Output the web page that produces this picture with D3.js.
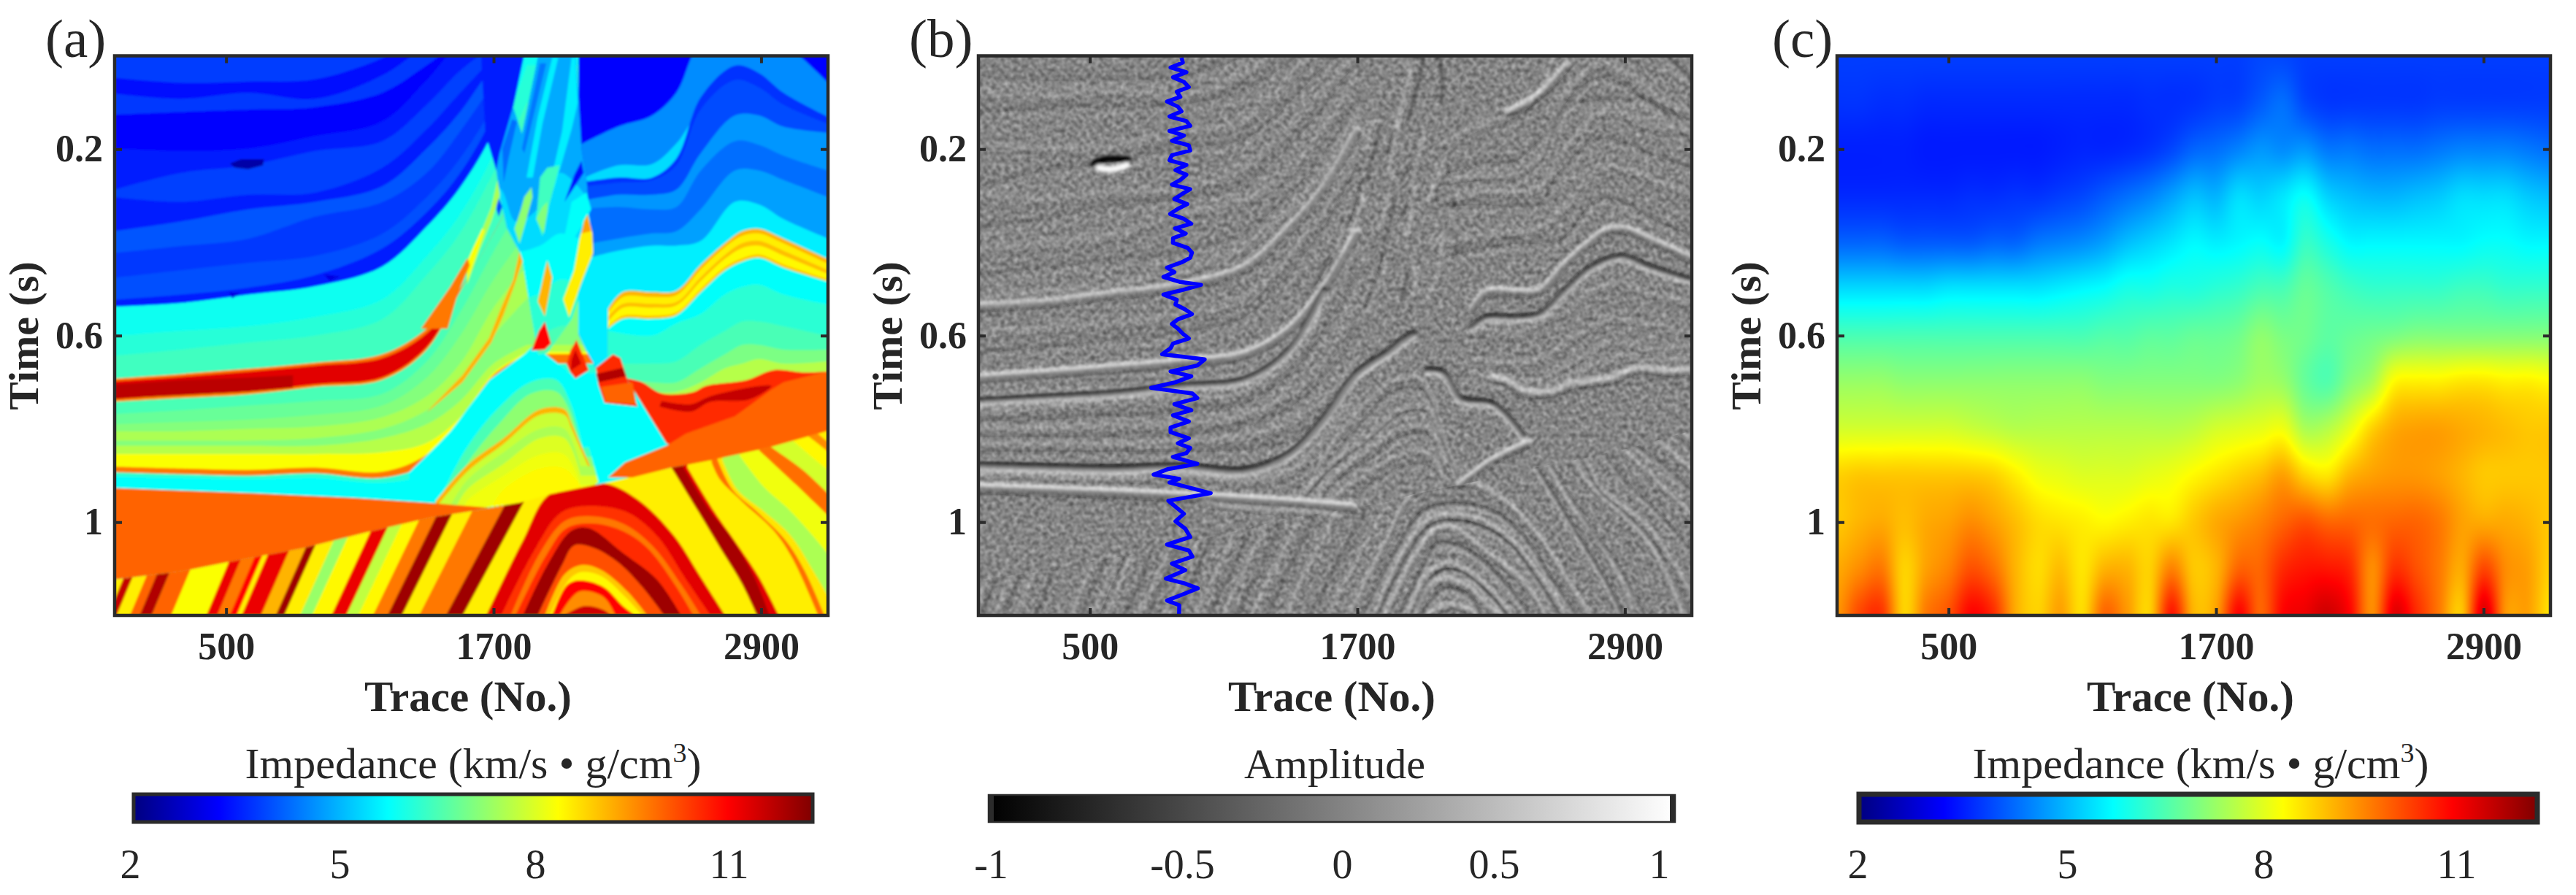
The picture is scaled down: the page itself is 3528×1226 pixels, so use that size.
<!DOCTYPE html>
<html>
<head>
<meta charset="utf-8">
<script src="https://cdn.jsdelivr.net/npm/d3@7"></script>
<style>
body { margin: 0; background: #fff; }
text { font-family: "Liberation Serif", serif; fill: #262626; }
</style>
</head>
<body>
<svg id="chart" width="3528" height="1226"></svg>
<script>
// ---- axes
var traceTicks = [500, 1700, 2900];
var timeTicks = [0.2, 0.6, 1];
var impedanceTicks = [2, 5, 8, 11];
var amplitudeTicks = [-1, -0.5, 0, 0.5, 1];

// ---- panel (a), horizons that are filled downwards, top layer first
var zoneATraces = [0, 300, 600, 900, 1200, 1400, 1550, 1700, 1850];
var zoneAValues = [3.9, 3.4, 3.85, 3.35, 3.55, 3.95, 3.6, 4.15, 3.85, 4.1, 3.6, 6.0, 6.25, 6.5, 9.8, 11.3, 9.6, 6.6, 6.9, 7.2, 7.6, 7.2, 7.7, 8.4, 9.8, 6.3, 5.9];
var zoneATimes = [
  [-.05, -.05, -.05, -.05, -.05, -.05, -.05, -.05, -.05],
  [.047, .058, .055, .050, .005, -.05, -.05, -.05, -.05],
  [.081, .092, .079, .092, .042, -.021, -.05, -.05, -.05],
  [.126, .120, .115, .110, .079, .02, -.03, -.05, -.05],
  [.199, .204, .199, .172, .141, .052, -.026, -.05, -.05],
  [.287, .251, .235, .204, .183, .105, .032, -.02, -.05],
  [.303, .313, .298, .293, .240, .157, .079, .005, -.05],
  [.376, .355, .329, .313, .28, .199, .12, .021, -.05],
  [.423, .408, .392, .345, .314, .251, .162, .058, -.05],
  [.476, .460, .444, .429, .382, .303, .220, .105, -.05],
  [.523, .512, .497, .470, .413, .335, .251, .126, -.05],
  [.538, .530, .512, .494, .452, .366, .282, .16, -.05],
  [.601, .59, .58, .56, .523, .43, .34, .21, .02],
  [.643, .63, .615, .6, .565, .47, .38, .25, .10],
  [.692, .682, .671, .658, .64, .585, .50, .38, .25],
  [.698, .688, .677, .664, .648, .595, .505, .38, .25],
  [.737, .727, .72, .705, .69, .625, .505, .38, .25],
  [.742, .734, .726, .71, .695, .63, .505, .38, .25],
  [.768, .76, .75, .74, .725, .655, .55, .42, .30],
  [.79, .785, .78, .77, .75, .69, .60, .48, .38],
  [.805, .805, .80, .795, .775, .73, .66, .54, .45],
  [.825, .825, .825, .82, .80, .76, .70, .60, .52],
  [.836, .836, .836, .836, .82, .79, .74, .66, .62],
  [.854, .854, .854, .854, .85, .83, .775, .68, .635],
  [.881, .885, .888, .883, .892, .855, .782, .684, .64],
  [.893, .897, .9, .895, .905, .875, .80, .71, .66],
  [.902, .905, .908, .905, .915, .895, .83, .74, .68]
];
var apexBlue = [[1663,.167],[1712,.246],[1728,.209],[1788,.11],[1850,-.03],[1640,-.03]];
var apexBlueValue = 3.6;

var fanEdge = [[1712,.246],[1728,.209],[1788,.11],[1827,.167],[1908,-.02],[2067,-.02],[2094,.199],[2116,.251],[2143,.355],[2149,.423],[2050,.564],[1941,.637],[1900,.64],[1850,.50],[1830,.44],[1816,.42],[1760,.37],[1728,.30]];
var fanTraces = [1581, 1723, 1800, 1908, 2000, 2150];
var fanValues = [5, 5.5, 5.9, 6.3, 6.6];
var fanTimes = [
  [-.05, -.05, -.05, -.05, -.05, -.05],
  [.303, .282, .355, .324, .251, .324],
  [.407, .387, .418, .407, .381, .407],
  [.51, .49, .52, .51, .48, .50],
  [.64, .60, .62, .60, .58, .58]
];
var fanStripeValues = [4.4, 5.7, 4.5, 5.7, 3.4, 6.5, 4.0, 5.9, 7.6, 8.4, 9.8, 9.2, 7.3, 7.2, 9.2, 8.6, 9.4];
var fanStripes = [
  [[1739,.199],[1783,.136],[1805,.141],[1767,.22],[1745,.272]],
  [[1963,.004],[1990,.004],[1919,.146],[1876,.261],[1848,.261],[1898,.131]],
  [[1908,.016],[1936,.016],[1865,.157],[1838,.209],[1827,.199]],
  [[2050,.004],[2067,.004],[2078,.1],[2050,.157],[1974,.282],[1947,.287],[2007,.162]],
  [[2018,.313],[2061,.256],[2094,.225],[2105,.251],[2061,.282]],
  [[1908,.261],[1941,.24],[1996,.235],[1947,.324],[1919,.387],[1892,.35]],
  [[1717,.298],[1739,.324],[1723,.345],[1712,.329]],
  [[2050,.313],[2116,.293],[2138,.329],[2094,.366],[2039,.407],[2018,.387]],
  [[1728,.298],[1690,.355],[1636,.418],[1581,.491],[1581,.439],[1636,.387],[1690,.324],[1717,.266]],
  [[1581,.444],[1581,.485],[1620,.43],[1660,.375],[1650,.37],[1610,.41]],
  [[1374,.585],[1494,.585],[1538,.512],[1593,.449],[1582,.434],[1505,.496]],
  [[1816,.42],[1788,.48],[1734,.54],[1680,.605],[1560,.685],[1418,.755],[1400,.765],[1560,.70],[1690,.615],[1745,.555],[1795,.49],[1830,.44]],
  [[1794,.371],[1823,.329],[1838,.303],[1870,.282],[1874,.303],[1838,.366],[1816,.402]],
  [[1892,.35],[1919,.324],[1941,.313],[1941,.334],[1925,.381]],
  [[1941,.439],[1963,.475],[1947,.517],[1930,.559],[1898,.527],[1908,.507],[1930,.46]],
  [[2121,.34],[2143,.381],[2146,.423],[2094,.486],[2039,.561],[2012,.522],[2061,.46],[2088,.387]],
  [[2121,.34],[2138,.376],[2094,.381],[2105,.355]]
];

var zoneBEdge = [[2067,-.02],[2094,.199],[2116,.261],[2146,.423],[2094,.486],[2050,.564],[2116,.632],[2159,.669],[2301,.695],[2476,.831],[2673,.867],[3192,.805],[3300,.795],[3300,-.02]];
var zoneBTraces = [2080, 2258, 2411, 2520, 2629, 2782, 2891, 3000, 3200];
var zoneBValues = [3.3, 4.7, 5.5, 3.8, 4.05, 4.8, 4.4, 4.9, 5.7];
var zoneBTimes = [
  [-.05, -.05, -.05, -.05, -.05, -.05, -.05, -.05, -.05],
  [.193, .152, .128, .079, -.026, -.04, -.04, -.026, .058],
  [.267, .235, .232, .188, .12, .1, .1, .1, .2],
  [.272, .261, .261, .22, .089, .021, .037, .079, .131],
  [.282, .272, .267, .235, .115, .052, .068, .105, .146],
  [.313, .298, .298, .287, .209, .128, .128, .152, .165],
  [.329, .324, .329, .324, .246, .183, .191, .214, .246],
  [.407, .392, .381, .376, .329, .246, .246, .266, .303],
  [.439, .418, .407, .407, .397, .313, .319, .350, .392]
];
var bandTraces = [2214, 2280, 2411, 2520, 2629, 2738, 2815, 2891, 3000, 3192];
var bandValues = [9.2, 8.6, 9.1, 8.5, 9, 5.9];
var bandTimes = [
  [.543, .507, .507, .504, .449, .402, .376, .371, .392, .434],
  [.551, .517, .517, .513, .458, .41, .386, .381, .402, .444],
  [.56, .532, .532, .528, .475, .427, .402, .397, .418, .458],
  [.57, .54, .54, .535, .483, .435, .412, .407, .428, .466],
  [.58, .557, .557, .55, .5, .453, .434, .426, .447, .478],
  [.585, .564, .564, .556, .507, .46, .441, .433, .454, .483]
];
var deepTraces = [2214, 2411, 2520, 2629, 2738, 2815, 2891, 3000, 3192];
var deepValues = [6.3, 6.6, 7.1, 7.7];
var deepTimes = [
  [.59, .60, .574, .554, .512, .496, .491, .512, .533],
  [.66, .66, .655, .62, .59, .57, .57, .58, .60],
  [.69, .70, .70, .67, .64, .62, .62, .63, .63],
  [.71, .72, .72, .70, .67, .66, .65, .66, .655]
];
var redTop = [[2301,.692],[2367,.70],[2454,.724],[2596,.721],[2651,.708],[2837,.695],[2956,.674],[3087,.679],[3192,.677]];
var redLens = [[2443,.752],[2585,.763],[2672,.742],[2847,.737],[2946,.708],[2891,.708],[2672,.73],[2585,.747],[2454,.74]];

// upper part of the buried fold, cut by the steep fault
var foldEdge = [[1320,.893],[1505,.805],[1680,.695],[1843,.637],[1880,.62],[2028,.674],[2170,.914],[2127,.93],[1952,.94],[1821,.958],[1614,.972],[1320,.972]];
var foldValues = [5.9, 6.6, 7.3, 9.2, 7.9, 7.6, 8.1, 8.3, 8.5];
var foldLayers = [
  [[1320,.893],[1505,.805],[1680,.695],[1843,.637],[1880,.62]],
  [[1480,.93],[1581,.84],[1723,.755],[1865,.70],[1980,.695],[2040,.74],[2100,.84]],
  [[1520,.93],[1581,.875],[1723,.79],[1865,.725],[1980,.72],[2040,.76],[2100,.86]],
  [[1440,.955],[1581,.878],[1745,.82],[1908,.758],[2018,.758],[2050,.789],[2160,.909]],
  [[1440,.97],[1581,.892],[1745,.832],[1908,.77],[2018,.77],[2050,.80],[2160,.92]],
  [[1500,.97],[1581,.91],[1745,.85],[1908,.80],[2018,.80],[2090,.88]],
  [[1520,.98],[1581,.93],[1745,.875],[1908,.82],[2018,.82],[2090,.9]],
  [[1560,.98],[1581,.955],[1745,.90],[1908,.855],[2018,.855],[2090,.92]],
  [[1700,.96],[1745,.93],[1908,.885],[2018,.885],[2100,.93]]
];

var patchValues = [5.9, 11, 10.6, 11.5, 10.6, 11.8, 10, 2.4, 3, 3, 11.7];
var patches = [
  [[2050,.695],[2116,.684],[2148,.69],[2198,.745],[2345,.763],[2400,.784],[2476,.833],[2410,.846],[2280,.878],[2203,.901],[2170,.914]],
  [[1930,.57],[1958,.617],[1930,.63],[1870,.632],[1903,.59]],
  [[2072,.609],[2127,.674],[2067,.692],[2045,.679],[2028,.661],[2045,.632]],
  [[2067,.63],[2094,.66],[2045,.675],[2050,.65]],
  [[2159,.669],[2236,.64],[2269,.648],[2301,.695],[2345,.752],[2198,.744],[2170,.705]],
  [[2159,.682],[2280,.669],[2296,.687],[2170,.70]],
  [[2181,.71],[2323,.70],[2340,.747],[2203,.742]],
  [[517,.231],[566,.222],[670,.222],[665,.235],[599,.243],[540,.24]],
  [[512,.507],[566,.509],[528,.52]],
  [[937,.468],[1014,.473],[965,.483]],
  [[0,.705],[300,.695],[600,.69],[800,.685],[800,.712],[600,.72],[300,.728],[0,.735]]
];

// dipping beds below the thrust
var lowerEdge = [[-30,1.125],[305,1.105],[501,1.086],[850,1.055],[1134,1.021],[1418,.99],[1592,.977],[1821,.958],[1952,.94],[2192,.917],[2498,.883],[2673,.867],[2924,.841],[3192,.805],[3300,.795],[3300,1.25],[-30,1.25]];
var bedValues = [11.6, 8.6, 10, 11.8, 10, 8.4, 11.2, 9.8, 11, 8.6, 11.2, 9.2, 12, 8.6, 7.4, 8.5, 11.2, 7.8, 8.5, 9.8, 12, 8.6, 9.8, 12, 8.6];
var bedBase = [-30, 9, 69, 112, 167, 254, 412, 461, 516, 548, 570, 657, 723, 761, 832, 886, 973, 1039, 1093, 1159, 1224, 1289, 1366, 1486, 1562];
var bedTop = [233, 272, 332, 375, 430, 517, 675, 726, 783, 816, 840, 930, 1000, 1040, 1115, 1172, 1265, 1335, 1392, 1462, 1532, 1600, 1685, 1820, 1900];

var limbValues = [11.9, 11.3, 8.6, 9.9, 8.7, 7.6, 8.3, 9.9, 8, 8.5, 9.6, 8.6];
var limbs = [
  [[2498,.883],[2618,.977],[2716,1.055],[2815,1.133],[2891,1.21]],
  [[2552,.883],[2672,.977],[2760,1.029],[2869,1.118],[2945,1.21]],
  [[2569,.883],[2689,.977],[2781,1.04],[2890,1.118],[2989,1.21]],
  [[2678,.872],[2716,.909],[2815,.956],[2956,1.018],[3044,1.081],[3164,1.21]],
  [[2705,.867],[2771,.93],[2891,.982],[3011,1.04],[3098,1.107],[3192,1.21]],
  [[2727,.867],[2793,.93],[2913,.977],[3033,1.029],[3131,1.102],[3220,1.175]],
  [[2803,.857],[2913,.925],[3022,.972],[3131,1.029],[3220,1.081]],
  [[2891,.846],[3055,.919],[3192,.982],[3240,1.003]],
  [[2935,.836],[3087,.888],[3192,.935],[3240,.956]],
  [[3044,.826],[3131,.862],[3240,.904]],
  [[3109,.815],[3192,.846],[3240,.867]],
  [[3142,.805],[3192,.825],[3240,.841]]
];
var archValues = [11.3, 10.5, 9.8, 10.6, 12, 10.2, 9, 8.5, 11, 9.6, 11.5];
var arches = [
  [[1668,1.2],[1832,1.039],[1952,.94],[2192,.917],[2345,.951],[2509,1.029],[2629,1.118],[2738,1.2]],
  [[1734,1.2],[1876,1.066],[1996,.982],[2094,.966],[2290,.977],[2432,1.029],[2563,1.123],[2673,1.2]],
  [[1777,1.2],[1908,1.066],[2018,.998],[2127,.987],[2280,1.003],[2411,1.05],[2541,1.134],[2629,1.2]],
  [[1799,1.2],[1930,1.076],[2028,1.013],[2149,1.003],[2280,1.019],[2389,1.055],[2520,1.139],[2596,1.2]],
  [[1832,1.2],[1941,1.092],[2050,1.018],[2127,1.013],[2280,1.066],[2432,1.123],[2541,1.2]],
  [[1898,1.2],[2007,1.092],[2061,1.05],[2149,1.055],[2258,1.086],[2367,1.139],[2465,1.2]],
  [[1930,1.2],[2018,1.112],[2094,1.092],[2181,1.102],[2301,1.149],[2389,1.2]],
  [[1952,1.2],[2039,1.123],[2094,1.107],[2181,1.115],[2290,1.16],[2367,1.2]],
  [[1963,1.2],[2028,1.136],[2083,1.125],[2192,1.139],[2280,1.18],[2334,1.2]],
  [[1996,1.2],[2083,1.149],[2192,1.16],[2247,1.2]],
  [[2018,1.2],[2105,1.18],[2192,1.188],[2225,1.2]]
];
var thrustLeft = [[0,.927],[632,.938],[1069,.948],[1396,.958],[1680,.969],[1800,.958],[1592,.977],[1418,.99],[1134,1.021],[850,1.055],[501,1.086],[305,1.105],[0,1.123]];
var thrustRight = [[2214,.904],[2290,.872],[2476,.836],[2563,.81],[2782,.773],[2946,.716],[3000,.70],[3192,.677],[3300,.67],[3300,.795],[3192,.805],[2924,.841],[2673,.867],[2498,.883],[2323,.904]];
var thrustValue = 10;

// ---- panel (b), picks that have no impedance layer of their own
var faultDark = [[2012,.677],[2086,.683],[2160,.738],[2308,.75],[2443,.818]];
var crestLight = [[2160,.92],[2300,.87],[2470,.83]];
var sagLight = [[1000,.96],[1200,.972],[1500,.98],[1630,.99]];
var archLight = [[2370,.122],[2500,.09],[2640,.02]];

// the well trace drawn over the section
var wellTimes = [.004,.0145,.025,.035,.046,.056,.067,.077,.088,.098,.109,.119,.13,.14,.15,.161,.171,.182,.192,.203,.213,.224,.234,.245,.255,.266,.276,.286,.297,.307,.318,.328,.339,.349,.36,.37,.381,.391,.401,.412,.422,.433,.443,.454,.464,.474,.485,.491,.502,.512,.523,.533,.544,.554,.565,.575,.585,.596,.606,.617,.627,.64,.651,.664,.677,.687,.70,.712,.724,.734,.747,.76,.771,.784,.797,.807,.82,.831,.841,.852,.86,.875,.886,.898,.907,.915,.925,.938,.954,.967,.982,.998,1.014,1.032,1.048,1.061,1.074,1.089,1.103,1.121,1.131,1.142,1.157,1.168,1.178,1.2];
var wellTraces = [911,917,862,933,873,922,944,890,906,846,895,911,857,933,950,857,922,868,944,950,868,857,933,884,933,906,868,950,911,879,937,895,860,919,955,882,930,873,873,939,958,950,911,846,879,830,906,999,917,830,890,884,928,958,895,868,895,917,944,873,862,824,1015,982,862,955,884,775,960,982,879,955,873,944,862,862,944,895,950,933,873,982,852,786,901,857,939,1042,852,884,922,884,928,950,846,944,960,868,928,841,922,984,906,846,901,900];

// ---- panel (c), low frequency model sampled every 100 traces
var modelTraces = [0,100,200,300,400,500,600,700,800,900,1000,1100,1200,1300,1400,1500,1600,1700,1800,1900,2000,2100,2200,2300,2400,2500,2600,2700,2800,2900,3000,3100,3200];
var modelTimes = [0,.1,.2,.3,.4,.5,.6,.7,.8,.9,1,1.1,1.2];
var modelGrid = [
  [3.9,3.9,3.9,3.9,3.9,3.9,3.9,3.9,3.9,3.9,3.9,3.9,3.9,3.9,3.9,3.9,3.9,3.9,3.9,4,4,3.9,3.9,3.9,3.9,3.9,3.9,3.9,3.9,3.9,3.9,3.9,3.9],
  [3.8,3.8,3.75,3.75,3.7,3.7,3.7,3.7,3.7,3.7,3.7,3.7,3.7,3.7,3.75,3.75,3.8,3.9,3.95,4.2,4.4,4,3.85,3.85,3.85,3.85,3.85,3.9,3.9,3.9,3.9,3.9,3.9],
  [3.6,3.6,3.6,3.6,3.55,3.55,3.55,3.55,3.55,3.55,3.6,3.65,3.65,3.7,3.8,4,4.3,4.4,4.6,4.8,4.7,4.8,4.5,4.5,4.4,4.4,4.4,4.5,4.6,4.6,4.6,4.5,4.4],
  [3.7,3.7,3.7,3.7,3.7,3.7,3.75,3.75,3.8,3.8,3.9,4,4.2,4.4,4.6,4.9,5.2,5.1,5.5,5.4,5.6,5.9,5.4,5.2,5.1,5.1,5.2,5.3,5.5,5.5,5.5,5.3,5.2],
  [4.3,4.3,4.3,4.2,4.2,4.2,4.2,4.3,4.3,4.5,4.6,4.7,4.9,5.2,5.4,5.6,5.8,5.7,5.8,5.9,5.8,6.4,6.1,5.8,5.8,5.8,5.8,5.8,5.8,5.9,5.9,5.8,5.8],
  [5.5,5.5,5.5,5.5,5.5,5.6,5.6,5.6,5.6,5.6,5.7,5.8,5.9,6.1,6.1,6.2,6.2,6.3,6.4,6.6,6.6,6.9,6.7,6.5,6.4,6.4,6.4,6.4,6.5,6.5,6.4,6.4,6.4],
  [6.6,6.6,6.6,6.6,6.6,6.6,6.6,6.6,6.6,6.6,6.6,6.6,6.7,6.7,6.8,6.8,6.9,6.9,7,7.3,7.1,7,6.8,6.9,7,7.1,7.2,7.2,7.2,7.2,7.2,7.2,7.2],
  [7.4,7.4,7.4,7.3,7.3,7.3,7.3,7.3,7.3,7.3,7.3,7.3,7.2,7.2,7.2,7.2,7.2,7.2,7.3,7.5,7.4,6.9,6.7,7.2,7.6,8.5,8.6,8.6,8.7,8.7,8.6,8.6,8.5],
  [8,8,8,8,8,8,7.9,7.8,7.7,7.7,7.7,7.7,7.7,7.7,7.7,7.7,7.8,8,8.1,8.2,8.3,7.6,7.7,8.2,8.9,9.3,9.4,9.4,9.3,9.2,9.1,9,9],
  [8.9,9,9,9,9,9,9,8.9,8.6,8.3,8.2,8.1,8.1,8.1,8.2,8.3,8.5,8.7,8.9,9.1,9.4,8.9,8.7,9.2,9.4,9.5,9.5,9.4,9.2,9,9,9,9],
  [9,9.2,9.3,9.1,9.3,9.4,9.6,9.4,9.1,8.8,8.7,8.6,8.5,8.6,8.7,8.7,9,9.3,9.5,9.7,10,10.2,10,10,9.9,10,10,9.8,9.4,9.3,9.3,9.2,9],
  [9.3,9.6,9.8,8.9,9.4,9.7,10.2,9.9,9.2,8.8,9.1,8.7,9.2,9.2,8.9,9.7,9,9.2,10,10,10.6,10.8,10.8,10.6,9.6,10.5,10.2,9.8,9.3,10.3,9.6,9.4,8.9],
  [9.5,10.3,10.5,8.9,9.8,10.2,11,10.6,9.3,8.9,9.4,8.8,10,9.5,8.9,10.8,9.2,9.4,11,10,11,11.2,11.5,11,9.6,11.3,10.6,9.8,9,11.4,9.5,9.4,8.7]
];

// ---- shared
var plotTop = 76.5, plotBottom = 843;
var plotLefts = { a: 157, b: 1340, c: 2516 };
var labelShift = { a: 0, b: 0, c: 6 };
var plotWidth = 977;
var ink = "#2b2b2b";

var jet = d3.scaleLinear()
  .domain([2, 3.29, 5.86, 8.44, 11.01, 12.3])
  .range(["#000080", "#0000ff", "#00ffff", "#ffff00", "#ff0000", "#800000"])
  .clamp(true);

var svg = d3.select("#chart");
var defs = svg.append("defs");

var y = d3.scaleLinear().domain([0, 1.2]).range([plotTop, plotBottom]);
function xScale(key) {
  return d3.scaleLinear().domain([0, 3200]).range([plotLefts[key], plotLefts[key] + plotWidth]);
}

defs.append("filter").attr("id", "soft")
  .attr("filterUnits", "userSpaceOnUse").attr("x", -100).attr("y", -100).attr("width", 3800).attr("height", 1500)
  .append("feGaussianBlur").attr("stdDeviation", 1.5);
defs.append("filter").attr("id", "softer")
  .attr("filterUnits", "userSpaceOnUse").attr("x", -100).attr("y", -100).attr("width", 3800).attr("height", 1500)
  .append("feGaussianBlur").attr("stdDeviation", 2.2);

var grain = defs.append("filter").attr("id", "grain")
  .attr("filterUnits", "userSpaceOnUse").attr("x", 0).attr("y", 0).attr("width", 3528).attr("height", 1226)
  .attr("color-interpolation-filters", "sRGB");
grain.append("feTurbulence").attr("type", "fractalNoise").attr("baseFrequency", 0.17).attr("numOctaves", 2).attr("seed", 7);
grain.append("feColorMatrix").attr("type", "matrix")
  .attr("values", "0.55 0 0 0 0.245  0.55 0 0 0 0.245  0.55 0 0 0 0.245  0 0 0 0 1");
grain.append("feGaussianBlur").attr("stdDeviation", 0.8);

function addClip(id, x, pts) {
  var line = d3.line().x(function(d) { return x(d[0]); }).y(function(d) { return y(d[1]); });
  defs.append("clipPath").attr("id", id).append("path").attr("d", line(pts) + "Z");
}

function drawFrame(key, x) {
  var g = svg.append("g");
  var yPos = d3.scaleLinear().domain(y.domain()).range(y.range());
  function style(sel) {
    sel.select(".domain").remove();
    sel.selectAll("line").attr("stroke", ink).attr("stroke-width", 4);
    sel.selectAll("text").attr("font-size", 52).attr("font-weight", "bold").attr("font-family", "Liberation Serif").attr("fill", "#262626");
  }
  g.append("g").attr("transform", "translate(0," + plotBottom + ")")
    .call(d3.axisBottom(x).tickValues(traceTicks).tickSize(-10).tickPadding(23).tickFormat(d3.format("d"))).call(style);
  g.append("g").attr("transform", "translate(0," + plotTop + ")")
    .call(d3.axisTop(x).tickValues(traceTicks).tickSize(-10).tickFormat("")).call(style);
  g.append("g").attr("transform", "translate(" + plotLefts[key] + ",0)")
    .call(d3.axisLeft(yPos).tickValues(timeTicks).tickSize(-10).tickPadding(16).tickFormat(function(d) { return d; })).call(style);
  g.append("g").attr("transform", "translate(" + (plotLefts[key] + plotWidth) + ",0)")
    .call(d3.axisRight(yPos).tickValues(timeTicks).tickSize(-10).tickFormat("")).call(style);
  g.append("rect").attr("x", plotLefts[key]).attr("y", plotTop).attr("width", plotWidth).attr("height", plotBottom - plotTop)
    .attr("fill", "none").attr("stroke", ink).attr("stroke-width", 4.5);

  g.append("text").attr("x", plotLefts[key] + 484).attr("y", 974).attr("text-anchor", "middle")
    .attr("font-size", 59).attr("font-weight", "bold").text("Trace (No.)");
  g.append("text").attr("transform", "translate(" + (plotLefts[key] - 105) + ",460) rotate(-90)").attr("text-anchor", "middle")
    .attr("font-size", 58).attr("font-weight", "bold").text("Time (s)");
  g.append("text").attr("x", plotLefts[key] - 95 + labelShift[key]).attr("y", 78).attr("font-size", 75).text("(" + key + ")");
}

function impedanceTitle(cx) {
  var t = svg.append("text").attr("x", cx).attr("y", 1066).attr("text-anchor", "middle").attr("font-size", 60);
  t.append("tspan").text("Impedance (km/s \u2022 g/cm");
  t.append("tspan").attr("dy", -22).attr("font-size", 38).text("3");
  t.append("tspan").attr("dy", 22).text(")");
}

function barTicks(values, positions, format) {
  var scale = d3.scaleLinear().domain(values).range(positions);
  svg.append("g").attr("transform", "translate(0,1126)")
    .call(d3.axisBottom(scale).tickValues(values).tickSize(0).tickPadding(37).tickFormat(format))
    .call(function(sel) {
      sel.select(".domain").remove();
      sel.selectAll("text").attr("font-size", 56).attr("font-family", "Liberation Serif").attr("fill", "#262626");
    });
}

function jetBar(id, x0, x1, strokeW) {
  var grad = defs.append("linearGradient").attr("id", id);
  jet.domain().forEach(function(v) {
    grad.append("stop").attr("offset", (v - 2) / 10.3).attr("stop-color", jet(v));
  });
  svg.append("rect").attr("x", x0).attr("y", 1088).attr("width", x1 - x0).attr("height", 38)
    .attr("fill", "url(#" + id + ")").attr("stroke", ink).attr("stroke-width", strokeW);
}

// ---- panel (a)
function panelA() {
  var key = "a", x = xScale(key);
  var line = d3.line().x(function(d) { return x(d[0]); }).y(function(d) { return y(d[1]); }).curve(d3.curveCatmullRom);
  var straight = d3.line().x(function(d) { return x(d[0]); }).y(function(d) { return y(d[1]); });

  function zip(traces, times) {
    return traces.map(function(tr, i) { return [tr, times[i]]; });
  }
  function fillDown(g, pts, v) {
    var last = pts[pts.length - 1];
    g.append("path").attr("fill", jet(v))
      .attr("d", line(pts) + "L" + x(3300) + "," + y(last[1]) + "L" + x(3300) + "," + y(1.3) + "L" + x(pts[0][0]) + "," + y(1.3) + "Z");
  }
  function fillPoly(g, pts, v) {
    g.append("path").attr("fill", jet(v)).attr("d", straight(pts) + "Z");
  }
  function fillSmooth(g, pts, v) {
    g.append("path").attr("fill", jet(v)).attr("d", line(pts) + "Z");
  }
  function fillRight(g, pts, v) {
    var last = pts[pts.length - 1];
    g.append("path").attr("fill", jet(v))
      .attr("d", line(pts) + "L" + x(3300) + "," + y(last[1]) + "L" + x(3300) + "," + y(.7) + "L" + x(pts[0][0]) + "," + y(.7) + "Z");
  }

  addClip("plotA", x, [[0,0],[3200,0],[3200,1.2],[0,1.2]]);
  addClip("fanA", x, fanEdge);
  addClip("zoneBA", x, zoneBEdge);
  addClip("foldA", x, foldEdge);
  addClip("lowerA", x, lowerEdge);

  var g = svg.append("g").attr("clip-path", "url(#plotA)").append("g").attr("filter", "url(#soft)");

  zoneAValues.forEach(function(v, i) { fillDown(g, zip(zoneATraces, zoneATimes[i]), v); });
  fillPoly(g, apexBlue, apexBlueValue);

  var fb = g.append("g").attr("clip-path", "url(#foldA)");
  foldValues.forEach(function(v, i) { fillDown(fb, foldLayers[i], v); });

  var fan = g.append("g").attr("clip-path", "url(#fanA)");
  fanValues.forEach(function(v, i) { fillDown(fan, zip(fanTraces, fanTimes[i]), v); });

  var zb = g.append("g").attr("clip-path", "url(#zoneBA)");
  zoneBValues.forEach(function(v, i) { fillDown(zb, zip(zoneBTraces, zoneBTimes[i]), v); });
  bandValues.forEach(function(v, i) { fillDown(zb, zip(bandTraces, bandTimes[i]), v); });
  deepValues.forEach(function(v, i) { fillDown(zb, zip(deepTraces, deepTimes[i]), v); });
  fillDown(zb, redTop, 10.6);
  fillSmooth(zb, redLens, 11.6);

  fanStripeValues.forEach(function(v, i) { fillPoly(g, fanStripes[i], v); });
  patchValues.forEach(function(v, i) { fillPoly(g, patches[i], v); });

  var low = g.append("g").attr("clip-path", "url(#lowerA)");
  low.append("rect").attr("x", x(-30)).attr("y", y(.7)).attr("width", x(3300) - x(-30)).attr("height", y(1.3) - y(.7)).attr("fill", jet(8.6));
  bedValues.forEach(function(v, i) {
    var nextBase = i + 1 < bedBase.length ? bedBase[i + 1] : 1700;
    var nextTop = i + 1 < bedTop.length ? bedTop[i + 1] : 2080;
    fillPoly(low, [[bedBase[i], 1.2], [bedTop[i], .9], [nextTop, .9], [nextBase, 1.2]], v);
  });
  limbValues.forEach(function(v, i) { fillRight(low, limbs[i], v); });
  archValues.forEach(function(v, i) { fillSmooth(low, arches[i], v); });

  fillPoly(g, thrustLeft, thrustValue);
  fillPoly(g, thrustRight, thrustValue);

  drawFrame(key, x);
  impedanceTitle(648);
  jetBar("jetA", 183, 1113, 5);
  barTicks(impedanceTicks, [178, 465, 733, 998], d3.format("d"));
}

// ---- panel (b)
function panelB() {
  var key = "b", x = xScale(key);
  var line = d3.line().x(function(d) { return x(d[0]); }).y(function(d) { return y(d[1]); }).curve(d3.curveCatmullRom);
  function zip(traces, times) {
    return traces.map(function(tr, i) { return [tr, times[i]]; });
  }
  addClip("plotB", x, [[0,0],[3200,0],[3200,1.2],[0,1.2]]);
  addClip("lowerB", x, lowerEdge);

  var outer = svg.append("g").attr("clip-path", "url(#plotB)");
  outer.append("rect").attr("x", x(0)).attr("y", plotTop).attr("width", plotWidth).attr("height", plotBottom - plotTop)
    .attr("fill", "#808080").attr("filter", "url(#grain)");
  var g = outer.append("g").attr("filter", "url(#softer)");

  function stroke(parent, pts, color, width, op) {
    parent.append("path").attr("d", line(pts)).attr("fill", "none")
      .attr("stroke", color).attr("stroke-width", width).attr("stroke-opacity", op).attr("stroke-linecap", "round");
  }
  // one reflector is a pair of lobes, light over dark or the other way round
  function pair(parent, pts, first, width, op, gap) {
    var second = first === "#fff" ? "#000" : "#fff";
    stroke(parent, pts.map(function(p) { return [p[0], p[1] - gap]; }), first, width, op);
    stroke(parent, pts.map(function(p) { return [p[0], p[1] + gap]; }), second, width, op * .55);
  }

  // faint layering of the section
  zoneATimes.forEach(function(times, i) {
    if (i > 0 && i !== 11 && i !== 14 && i !== 17 && i !== 24) pair(g, zip(zoneATraces, times).slice(0, 8), i % 2 ? "#000" : "#fff", 8, .11, .008);
  });
  zoneBTimes.forEach(function(times, i) {
    if (i > 0) pair(g, zip(zoneBTraces, times), i % 2 ? "#fff" : "#000", 6, .17, .007);
  });
  deepTimes.forEach(function(times, i) { pair(g, zip(deepTraces, times), "#fff", 6, .14, .007); });

  // faults and steep beds in the middle
  fanStripes.forEach(function(pts, i) {
    stroke(g, pts.slice(0, 3), i % 2 ? "#111" : "#eee", 2.5, .6);
    stroke(g, pts.slice(-3), i % 2 ? "#eee" : "#111", 2.5, .45);
  });
  foldLayers.forEach(function(pts, i) {
    pair(g, pts, i % 2 ? "#fff" : "#000", 3.5, .3, .005);
  });

  // strong reflectors
  var topOfRed = zip(zoneATraces, zoneATimes[14]).slice(0, 8);
  var baseOfRed = zip(zoneATraces, zoneATimes[17]).slice(0, 7);
  var topOfBlue = zip(zoneATraces, zoneATimes[11]).slice(0, 8);
  var thinBed = zip(zoneATraces, zoneATimes[24]).slice(0, 8).concat([[1843,.637],[1900,.615],[1950,.60]]);
  pair(g, topOfBlue, "#fff", 10, .6, .004);
  pair(g, topOfRed, "#fff", 11, .7, .004);
  pair(g, baseOfRed, "#000", 9, .85, .004);
  pair(g, thinBed, "#000", 10, .92, .004);
  pair(g, thrustLeft.slice(0, 5), "#fff", 11, .75, .004);
  pair(g, sagLight, "#fff", 5, .4, .003);
  pair(g, crestLight, "#fff", 8, .7, .004);
  pair(g, faultDark, "#000", 8, .9, .004);
  pair(g, zip(bandTraces, bandTimes[0]), "#fff", 9, .65, .004);
  pair(g, zip(bandTraces, bandTimes[5]), "#000", 8, .8, .004);
  pair(g, archLight, "#fff", 8, .6, .006);
  pair(g, zip(zoneBTraces, zoneBTimes[1]).slice(4), "#000", 6, .4, .006);
  pair(g, redTop, "#fff", 8, .5, .006);
  stroke(g, patches[7].slice(0, 3), "#000", 8, 1);
  stroke(g, patches[7].slice(3), "#fff", 9, .95);

  // beds below the thrust
  var low = outer.append("g").attr("clip-path", "url(#lowerB)").append("g").attr("filter", "url(#softer)");
  bedBase.forEach(function(b, i) {
    stroke(low, [[b, 1.2], [bedTop[i], .9]], i % 2 ? "#000" : "#fff", 3.5, .28);
  });
  limbs.forEach(function(pts, i) {
    pair(low, pts, i % 2 ? "#fff" : "#000", 4.5, i === 0 ? .75 : .4, .004);
  });
  arches.forEach(function(pts, i) {
    pair(low, pts, i % 2 ? "#000" : "#fff", 5, .45, .005);
  });

  // well trace
  outer.append("path").attr("d", d3.line().x(function(d) { return x(d); }).y(function(d, i) { return y(wellTimes[i]); })(wellTraces))
    .attr("fill", "none").attr("stroke", "#0000ff").attr("stroke-width", 5.5).attr("stroke-linejoin", "round");

  drawFrame(key, x);

  svg.append("text").attr("x", 1828).attr("y", 1066).attr("text-anchor", "middle").attr("font-size", 58).text("Amplitude");
  var grad = defs.append("linearGradient").attr("id", "greyBar");
  grad.append("stop").attr("offset", 0).attr("stop-color", "#000");
  grad.append("stop").attr("offset", 1).attr("stop-color", "#fff");
  svg.append("rect").attr("x", 1354).attr("y", 1089).attr("width", 940).attr("height", 37)
    .attr("fill", "url(#greyBar)").attr("stroke", ink).attr("stroke-width", 2.5);
  svg.append("rect").attr("x", 1354).attr("y", 1088).attr("width", 7).attr("height", 39).attr("fill", ink);
  svg.append("rect").attr("x", 2287).attr("y", 1088).attr("width", 7).attr("height", 39).attr("fill", ink);
  barTicks(amplitudeTicks, [1357, 1619, 1838, 2046, 2272], function(d) { return d; });
}

// ---- panel (c)
function panelC() {
  var key = "c", x = xScale(key);
  var w = plotWidth, h = Math.round(plotBottom - plotTop);
  var canvas = document.createElement("canvas");
  canvas.width = w; canvas.height = h;
  var ctx = canvas.getContext("2d");
  var img = ctx.createImageData(w, h);

  var lut = d3.range(1024).map(function(i) { return d3.rgb(jet(2 + 10.3 * i / 1023)); });
  var col = d3.scaleLinear().domain(d3.extent(modelTraces)).range([0, modelTraces.length - 1]);
  var row = d3.scaleLinear().domain(d3.extent(modelTimes)).range([0, modelTimes.length - 1]);

  function weights(f) {
    return [
      -.5 * f + f * f - .5 * f * f * f,
      1 - 2.5 * f * f + 1.5 * f * f * f,
      .5 * f + 2 * f * f - 1.5 * f * f * f,
      -.5 * f * f + .5 * f * f * f
    ];
  }
  var nr = modelTimes.length, nc = modelTraces.length;
  var colInfo = d3.range(w).map(function(px) {
    var c = col(x.invert(x(0) + px + .5));
    var i = Math.min(nc - 2, Math.floor(c));
    return { i: i, wt: weights(c - i) };
  });
  var p = 0;
  for (var py = 0; py < h; py++) {
    var r = row(y.invert(plotTop + py + .5));
    var j = Math.min(nr - 2, Math.floor(r));
    var wr = weights(r - j);
    for (var px = 0; px < w; px++) {
      var ci = colInfo[px], v = 0;
      for (var a = 0; a < 4; a++) {
        var rowVals = modelGrid[Math.max(0, Math.min(nr - 1, j - 1 + a))];
        for (var b = 0; b < 4; b++) {
          v += wr[a] * ci.wt[b] * rowVals[Math.max(0, Math.min(nc - 1, ci.i - 1 + b))];
        }
      }
      var c = lut[Math.max(0, Math.min(1023, Math.round((v - 2) / 10.3 * 1023)))];
      img.data[p++] = c.r; img.data[p++] = c.g; img.data[p++] = c.b; img.data[p++] = 255;
    }
  }
  ctx.putImageData(img, 0, 0);
  svg.append("image").attr("x", x(0)).attr("y", plotTop).attr("width", w).attr("height", h)
    .attr("preserveAspectRatio", "none").attr("href", canvas.toDataURL());

  drawFrame(key, x);
  impedanceTitle(3014);
  jetBar("jetC", 2546, 3475, 7);
  barTicks(impedanceTicks, [2544, 2831, 3100, 3364], d3.format("d"));
}

panelA();
panelB();
panelC();
</script>
</body>
</html>
